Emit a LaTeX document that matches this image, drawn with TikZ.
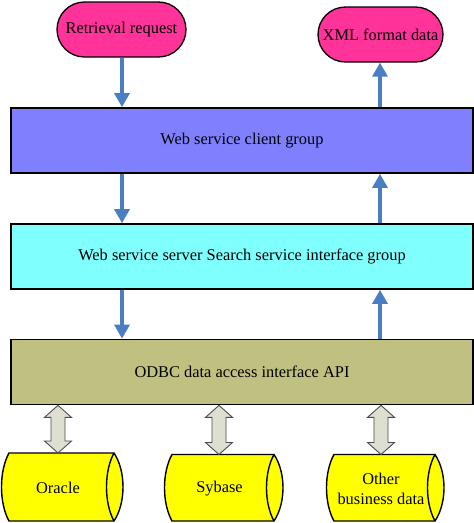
\documentclass[tikz,border=0pt]{standalone}
\usepackage{fontspec}
\setmainfont{Liberation Serif}
\usetikzlibrary{shapes.misc,arrows.meta,calc}
\definecolor{pinkf}{HTML}{FF3399}
\definecolor{bluef}{HTML}{8080FF}
\definecolor{cyanf}{HTML}{80FFFF}
\definecolor{olivef}{HTML}{C0C080}
\definecolor{flow}{HTML}{4A7EC2}
\definecolor{grayf}{HTML}{DDE0D0}
\definecolor{yellowf}{HTML}{FFFF00}
\tikzset{
  x=1pt,y=-1pt,
  lbl/.style={font=\fontsize{16.4}{19.5}\selectfont,align=center,inner sep=0pt},
  pill/.style={lbl,rounded rectangle,draw=black,line width=1.3pt,fill=pinkf,minimum height=55pt},
  band/.style={lbl,rectangle,draw=black,line width=1.7pt,minimum width=462pt,minimum height=65pt},
  flowarrow/.style={draw=flow,line width=3.2pt,-{Triangle[width=15pt,length=14pt]},shorten >=0pt},
  cylbody/.style={draw=black,line width=1.4pt,fill=yellowf},
  dbl/.style={draw=black!70,line width=.9pt,fill=grayf,line join=miter},
}
% name, left, top, right, bottom, text
\newcommand{\dbcyl}[6]{%
  \draw[cylbody] (#2+7,#3) -- (#4-9,#3) .. controls (#4+3,#3+18) and (#4+3,#5-18) .. (#4-9,#5)
    -- (#2+7,#5) .. controls (#2-3,#5-18) and (#2-3,#3+18) .. (#2+7,#3) -- cycle;
  \draw[cylbody,fill=none] (#4-9,#3) .. controls (#4-19,#3+18) and (#4-19,#5-18) .. (#4-9,#5);
  \node[lbl,minimum width=#4-#2-16pt,minimum height=#5-#3] (#1) at ({(#2+#4)/2-4.5},{(#3+#5)/2+1}) {#6};
}
% double arrow between two named points (same x): from #1 (top) to #2 (bottom)
\newcommand{\dblarrow}[2]{%
  \draw[dbl] (#1) -- ++(13.5,12) -- ++(-6.5,0) -- ($(#2)+(7,-12)$) -- ++(6.5,0) -- (#2)
    -- ++(-13.5,-12) -- ++(6.5,0) -- ($(#1)+(-7,12)$) -- ++(-6.5,0) -- cycle;
}
\begin{document}
\begin{tikzpicture}
\useasboundingbox (0,0) rectangle (474,523);
\fill[white] (0,0) rectangle (474,523);

\node[pill,fill=pinkf,minimum width=129pt] (req) at (121.5,29.5) {Retrieval request};
\node[pill,minimum width=125pt] (xml) at (380.5,34.5) {XML format data};

\node[band,fill=bluef] (client) at (242,140.5) {Web service client group};
\node[band,fill=cyanf] (server) at (242,256.5) {Web service server Search service interface group};
\node[band,fill=olivef] (odbc) at (242,372) {ODBC data access interface API};

\coordinate (a1) at (122,0);
\coordinate (a2) at (380,0);
\draw[flowarrow] (req.south -| a1) -- (client.north -| a1);
\draw[flowarrow] (client.south -| a1) -- (server.north -| a1);
\draw[flowarrow] (server.south -| a1) -- (odbc.north -| a1);
\draw[flowarrow] (client.north -| a2) -- (xml.south -| a2);
\draw[flowarrow] (server.north -| a2) -- (client.south -| a2);
\draw[flowarrow] (odbc.north -| a2) -- (server.south -| a2);

\dbcyl{ora}{2}{453}{123}{521}{Oracle}
\dbcyl{syb}{165}{454.5}{283}{521}{Sybase}
\dbcyl{oth}{327}{454.5}{444}{521}{Other\\business data}

\coordinate (d1) at (58,0);
\coordinate (d2) at (219,0);
\coordinate (d3) at (381,0);
\coordinate (t1) at (d1 |- odbc.south);
\coordinate (t2) at (d2 |- odbc.south);
\coordinate (t3) at (d3 |- odbc.south);
\coordinate (b1) at (0,453);
\coordinate (b2) at (0,454.5);
\coordinate (b3) at (0,454.5);
\dblarrow{t1}{d1 |- b1}
\dblarrow{t2}{d2 |- b2}
\dblarrow{t3}{d3 |- b3}
\end{tikzpicture}
\end{document}
